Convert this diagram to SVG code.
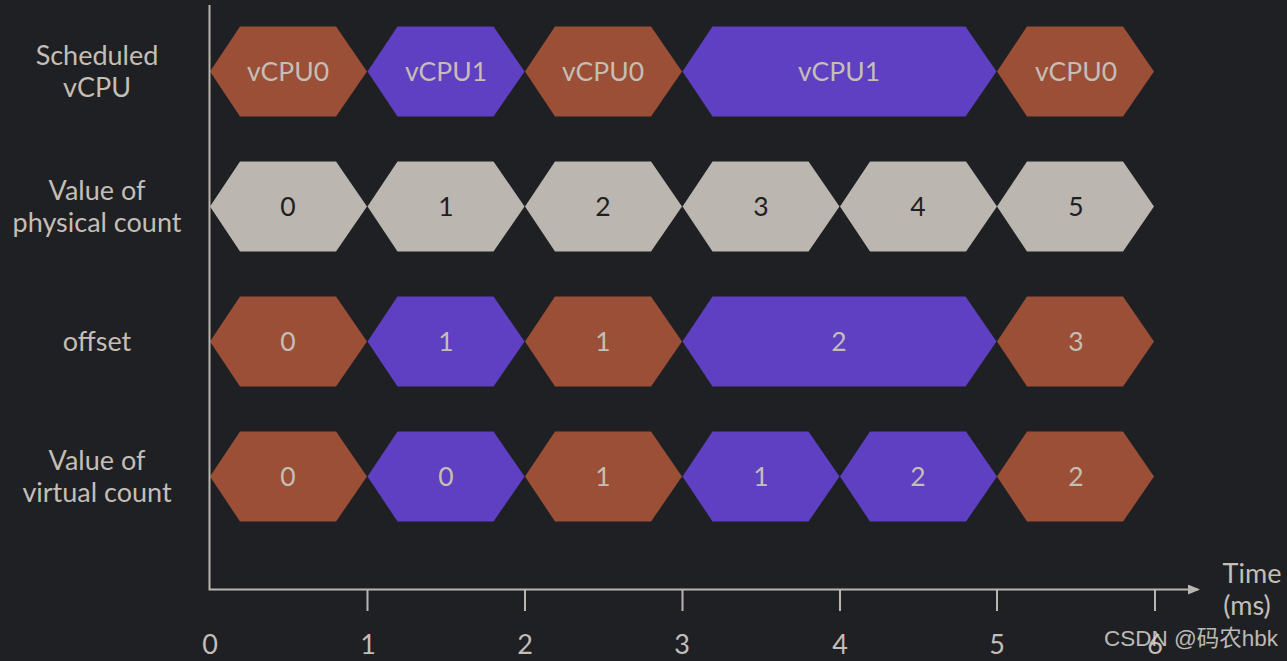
<svg xmlns="http://www.w3.org/2000/svg" width="1287" height="661" viewBox="0 0 1287 661">
<style>
.bg{fill:#1f2024}
.br{fill:#9a4f36}
.pu{fill:#5f3fc2}
.gr{fill:#bbb6af}
.t{font-family:Lato,"Liberation Sans",sans-serif;font-size:26.5px;text-anchor:middle;fill:#c4beb6}
.d{fill:#1f1f1f}
.lab{font-family:Lato,"Liberation Sans",sans-serif;font-size:27px;text-anchor:middle;fill:#c4beb6}
.ax{stroke:#bab5ae;stroke-width:2;fill:none}
.wm{font-family:"Liberation Sans","Noto Sans CJK SC",sans-serif;font-size:22.5px;fill:#d8d4ce;opacity:0.85}
</style>
<defs>
<polygon id="h1" points="0,0 30,-45 126,-45 157,0 126,45 30,45"/>
<polygon id="h2" points="0,0 30,-45 283,-45 314,0 283,45 30,45"/>
<marker id="arr" markerWidth="12" markerHeight="10" refX="10" refY="5" orient="auto" markerUnits="userSpaceOnUse"><path d="M0,0 L12,5 L0,10 Z" fill="#bab5ae"/></marker>
</defs>
<rect class="bg" width="1287" height="661"/>

<g id="labels">
<text class="lab" x="97" y="65">Scheduled</text>
<text class="lab" x="97" y="97">vCPU</text>
<text class="lab" x="97" y="200">Value of</text>
<text class="lab" x="97" y="232">physical count</text>
<text class="lab" x="97" y="351">offset</text>
<text class="lab" x="97" y="470">Value of</text>
<text class="lab" x="97" y="502">virtual count</text>
</g>

<g id="row-scheduled">
<use href="#h1" class="br" x="210" y="71.5"/><text class="t" x="288" y="80.5">vCPU0</text>
<use href="#h1" class="pu" x="367.5" y="71.5"/><text class="t" x="446" y="80.5">vCPU1</text>
<use href="#h1" class="br" x="525" y="71.5"/><text class="t" x="603" y="80.5">vCPU0</text>
<use href="#h2" class="pu" x="682.5" y="71.5"/><text class="t" x="839" y="80.5">vCPU1</text>
<use href="#h1" class="br" x="997" y="71.5"/><text class="t" x="1076" y="80.5">vCPU0</text>
</g>

<g id="row-physical">
<use href="#h1" class="gr" x="210" y="206.5"/><text class="t d" x="288" y="215.5">0</text>
<use href="#h1" class="gr" x="367.5" y="206.5"/><text class="t d" x="446" y="215.5">1</text>
<use href="#h1" class="gr" x="525" y="206.5"/><text class="t d" x="603" y="215.5">2</text>
<use href="#h1" class="gr" x="682.5" y="206.5"/><text class="t d" x="761" y="215.5">3</text>
<use href="#h1" class="gr" x="840" y="206.5"/><text class="t d" x="918" y="215.5">4</text>
<use href="#h1" class="gr" x="997" y="206.5"/><text class="t d" x="1076" y="215.5">5</text>
</g>

<g id="row-offset">
<use href="#h1" class="br" x="210" y="341.5"/><text class="t" x="288" y="350.5">0</text>
<use href="#h1" class="pu" x="367.5" y="341.5"/><text class="t" x="446" y="350.5">1</text>
<use href="#h1" class="br" x="525" y="341.5"/><text class="t" x="603" y="350.5">1</text>
<use href="#h2" class="pu" x="682.5" y="341.5"/><text class="t" x="839" y="350.5">2</text>
<use href="#h1" class="br" x="997" y="341.5"/><text class="t" x="1076" y="350.5">3</text>
</g>

<g id="row-virtual">
<use href="#h1" class="br" x="210" y="476.5"/><text class="t" x="288" y="485.5">0</text>
<use href="#h1" class="pu" x="367.5" y="476.5"/><text class="t" x="446" y="485.5">0</text>
<use href="#h1" class="br" x="525" y="476.5"/><text class="t" x="603" y="485.5">1</text>
<use href="#h1" class="pu" x="682.5" y="476.5"/><text class="t" x="761" y="485.5">1</text>
<use href="#h1" class="pu" x="840" y="476.5"/><text class="t" x="918" y="485.5">2</text>
<use href="#h1" class="br" x="997" y="476.5"/><text class="t" x="1076" y="485.5">2</text>
</g>

<g id="axes">
<path class="ax" d="M209.5,5 V589.5 H1198" marker-end="url(#arr)"/>
<path class="ax" d="M367.5,589 V611 M525,589 V611 M682.5,589 V611 M840,589 V611 M997,589 V611 M1155,589 V611"/>
<text class="lab" x="210" y="654">0</text>
<text class="lab" x="368" y="654">1</text>
<text class="lab" x="525" y="654">2</text>
<text class="lab" x="682" y="654">3</text>
<text class="lab" x="840" y="654">4</text>
<text class="lab" x="997" y="654">5</text>
<text class="lab" x="1155" y="654">6</text>
<text class="lab" x="1252" y="583">Time</text>
<text class="lab" x="1247" y="615">(ms)</text>
</g>

<text class="wm" x="1104" y="646">CSDN @码农hbk</text>
</svg>
